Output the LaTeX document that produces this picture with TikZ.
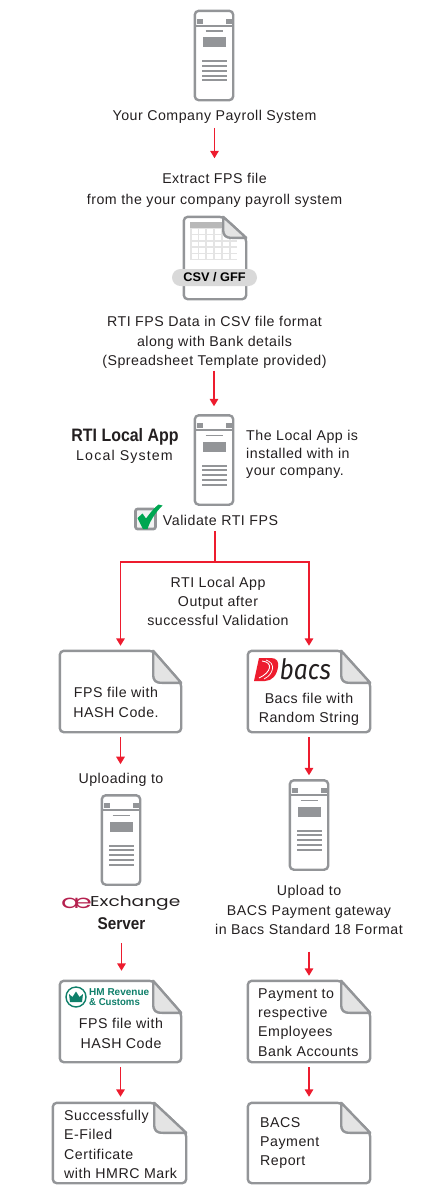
\documentclass[tikz,border=0pt]{standalone}
\usepackage{fontspec}
\setmainfont[LetterSpace=3.6]{Liberation Sans}
\newfontfamily\heavyfont{Liberation Sans}
\newfontfamily\logofont{Poppins}
\newfontfamily\bacsfont{Fira Sans}
\usetikzlibrary{arrows.meta,calc}
\definecolor{inkblack}{HTML}{231F20}
\definecolor{framegray}{HTML}{939598}
\definecolor{foldgray}{HTML}{E4E4E4}
\definecolor{pillgray}{HTML}{D9D9D9}
\definecolor{flowred}{HTML}{ED1C2E}
\definecolor{tickgreen}{HTML}{00A651}
\definecolor{hmrcgreen}{HTML}{0F7F6A}
\definecolor{aepink}{HTML}{B5214F}
\newcommand{\bodysize}{\fontsize{14.2}{19.3}\selectfont}
\newcommand{\heavytext}[3]{\scalebox{#2}[1]{\heavyfont\fontsize{#1}{#1}\selectfont\bfseries #3}}
\begin{document}
\begin{tikzpicture}[
        x=1pt, y=-1pt,
        label/.style={inner sep=0pt, align=center, text=inkblack, font=\bodysize, yshift=-1.5pt},
        leftlabel/.style={label, align=left, anchor=west},
        serverbox/.style={rectangle, minimum width=38pt, minimum height=89pt, inner sep=0pt},
        docbox/.style={rectangle, inner sep=0pt},
        frameline/.style={draw=framegray, line width=2.4pt, rounded corners=4pt},
        detailline/.style={draw=framegray, line width=2pt},
        flow/.style={-{Triangle[width=8.5pt,length=7.5pt]}, draw=flowred, line width=1.6pt}
      ]
      \useasboundingbox (0,0) rectangle (432,1200);
      % servers
      \node[serverbox] (payroll) at (214,55.5) {};
      \node[serverbox] (localapp) at (214,460) {};
      \node[serverbox] (exchange) at (121,840) {};
      \node[serverbox] (gateway) at (309,825) {};
      \foreach \srv in {payroll, localapp, exchange, gateway}{
          \draw[frameline] (\srv.north west) rectangle (\srv.south east);
          \begin{scope}[shift={(\srv.center)}]
            \draw[detailline] (-19,-30) -- (19,-30);
            \fill[framegray] (-17,-37) rectangle (-11,-32);
            \fill[framegray] (12,-37) rectangle (18,-32);
            \draw[framegray, line width=1.2pt] (-8.5,-24.5) -- (9,-24.5);
            \fill[framegray] (-11,-18.5) rectangle (12,-8.5);
            \foreach \dy in {5.5,10.3,15,20,24.7}{
                \draw[detailline] (-12,\dy) -- (13,\dy);
              }
          \end{scope}
        }
      % documents
      \node[docbox, minimum width=62pt, minimum height=82pt] (csvdoc) at (215,258) {};
      \node[docbox, minimum width=121pt, minimum height=81pt] (fpsdoc) at (120.5,691.5) {};
      \node[docbox, minimum width=122pt, minimum height=81pt] (bacsdoc) at (309,691.5) {};
      \node[docbox, minimum width=121pt, minimum height=81pt] (hmrcdoc) at (120.5,1021.5) {};
      \node[docbox, minimum width=122pt, minimum height=81pt] (paydoc) at (309,1021.5) {};
      \node[docbox, minimum width=133pt, minimum height=80pt] (certdoc) at (119.5,1143) {};
      \node[docbox, minimum width=122pt, minimum height=80pt] (reportdoc) at (309,1143) {};
      \foreach \doc/\fx/\fy in {csvdoc/23/21, fpsdoc/28/32, bacsdoc/29/32, hmrcdoc/28/32, paydoc/29/32, certdoc/32/30, reportdoc/29/30}{
          \draw[frameline, fill=white] (\doc.south west) -- (\doc.north west)
          -- ($(\doc.north east)+(-\fx,0)$) -- ($(\doc.north east)+(0,\fy)$)
          -- (\doc.south east) -- cycle;
        }
      % spreadsheet on the csv file
      \fill[foldgray] (190,222) rectangle (237,260);
      \fill[pillgray!85!black] (190,222) rectangle (237,228);
      \foreach \gx in {191.5,199.3,207.1,214.9,222.7,230.5}{
          \foreach \gy in {229,235.3,241.6,247.9,254.2}{
              \fill[white] (\gx,\gy) rectangle +(6,4.8);
            }
        }
      \foreach \doc/\fx/\fy in {csvdoc/23/21, fpsdoc/28/32, bacsdoc/29/32, hmrcdoc/28/32, paydoc/29/32, certdoc/32/30, reportdoc/29/30}{
          \fill[white] ($(\doc.north east)+(-\fx,-2)$) -- ($(\doc.north east)+(2,-2)$) -- ($(\doc.north east)+(2,\fy)$) -- cycle;
          \draw[draw=framegray, line width=2.4pt, fill=foldgray, line join=round]
          ($(\doc.north east)+(-\fx,0)$)
          -- ($(\doc.north east)+(-\fx,\fy-9)$)
          .. controls ($(\doc.north east)+(-\fx,\fy-2)$) and ($(\doc.north east)+(-\fx+2,\fy)$) .. ($(\doc.north east)+(-\fx+9,\fy)$)
          -- ($(\doc.north east)+(0,\fy)$) -- cycle;
        }
      \node[rectangle, rounded corners=8.5pt, fill=pillgray, minimum width=85pt, minimum height=17pt, inner sep=0pt] (csvpill) at (214.5,277.5)
      {\heavytext{12.5}{1.02}{CSV / GFF}};
      % texts
      \node[label] (payrolltext) at (214.5,115) {Your Company Payroll System};
      \node[label] (extracttext) at (214.5,188.5) {Extract FPS file\\[1.5pt]from the your company payroll system};
      \node[label] (csvtext) at (214.5,341) {RTI FPS Data in CSV file format\\along with Bank details\\(Spreadsheet Template provided)};
      \node[label] (rtititle) at (125,435) {\heavytext{18}{0.885}{RTI Local App}};
      \node[label] (rtisub) at (124.5,455) {\addfontfeature{LetterSpace=8}Local System};
      \node[leftlabel, font=\fontsize{14.2}{17.5}\selectfont] (installtext) at (246,453) {The Local App is\\installed with in\\your company.};
      \node[label] (validatetext) at (220.5,519) {Validate RTI FPS};
      \node[label] (outputtext) at (218,600) {RTI Local App\\Output after\\successful Validation};
      \node[label] (fpstext) at (116,701) {FPS file with\\HASH Code.};
      \node[label] (bacstext) at (309,707.5) {Bacs file with\\Random String};
      \node[label] (uploadingtext) at (121,778.5) {Uploading to};
      \node[label] (servertext) at (121.5,922.5) {\heavytext{17}{0.9}{Server}};
      \node[label] (gatewaytext) at (309,908.5) {Upload to\\BACS Payment gateway\\in Bacs Standard 18 Format};
      \node[label] (hmrctext) at (121,1032) {FPS file with\\HASH Code};
      \node[leftlabel] (paytext) at (258,1021) {Payment to\\respective\\Employees\\Bank Accounts};
      \node[leftlabel] (certtext) at (64,1143) {Successfully\\E-Filed\\Certificate\\with HMRC Mark};
      \node[leftlabel] (reporttext) at (260,1141.5) {BACS\\Payment\\Report};
      % tick box
      \node[rectangle, draw=framegray, line width=2.6pt, rounded corners=2pt, fill=foldgray!50, minimum size=20pt, inner sep=0pt] (tickbox) at (145.5,519) {};
      \fill[tickgreen] (137.5,518) -- (142.5,513.5) -- (146,518.5) .. controls (150,513) and (154,508) .. (158.5,504.5) -- (162.5,505.5)
      .. controls (155,513) and (150,521) .. (147.5,529) -- (143,529) -- cycle;
      % bacs logo
      \node[inner sep=0pt, anchor=west, text=inkblack] (bacslogo) at (279.5,669.5)
      {\scalebox{0.88}[1]{\bacsfont\fontsize{28}{28}\selectfont\itshape bacs}};
      \fill[flowred] (259,658) -- (271,658) .. controls (277,658) and (279,662) .. (278,667)
      .. controls (277,675) and (272,681) .. (265,681) -- (254,681) -- cycle;
      \draw[white, line width=0.9pt] (262,661) .. controls (273,662) and (272,672) .. (259,678);
      \draw[white, line width=0.7pt] (266,660) .. controls (276,663) and (274,674) .. (264,679);
      % exchange logo
      \node[inner sep=0pt, anchor=west, text=aepink] (aemark) at (61,903)
      {\scalebox{1.65}[1.1]{\logofont\fontsize{17}{17}\selectfont æ}};
      \node[inner sep=0pt, anchor=east, text=inkblack] (aename) at (180.5,903)
      {\scalebox{1.24}[0.95]{\logofont\fontsize{15}{15}\selectfont Exchange}};
      % hmrc logo
      \node[circle, draw=hmrcgreen, line width=1.4pt, minimum size=20pt, inner sep=0pt] (hmrccrest) at (76,997) {};
      \fill[hmrcgreen] (70,1002) -- (69,994) -- (72.5,997) -- (76,991.5) -- (79.5,997) -- (83,994) -- (82,1002) -- cycle;
      \node[inner sep=0pt, anchor=west, align=left, text=hmrcgreen, font=\heavyfont\fontsize{10}{10.5}\selectfont\bfseries] (hmrcname) at (89,997)
      {\scalebox{1.0}[1]{HM Revenue}\\\scalebox{0.96}[1]{\& Customs}};
      % connectors
      \coordinate (branch) at (215,562);
      \draw[flow, shorten <=4.5pt, shorten >=14.5pt] (payrolltext.south) -- (payrolltext.south |- extracttext.north);
      \draw[flow, shorten <=2pt, shorten >=9pt] (csvtext.south -| localapp.north) -- (localapp.north);
      \draw[draw=flowred, line width=1.6pt, shorten <=5pt] (branch |- validatetext.south) -- (branch);
      \draw[flow, shorten >=5pt] (branch) -| (fpsdoc.north);
      \draw[flow, shorten >=5pt] (branch) -| (bacsdoc.north);
      \draw[flow, shorten <=5pt, shorten >=9pt] (fpsdoc.south) -- (fpsdoc.south |- uploadingtext.north);
      \draw[flow, shorten <=5pt, shorten >=5pt] (bacsdoc.south) -- (gateway.north);
      \draw[flow, shorten <=13pt, shorten >=10pt] (servertext.south) -- (servertext.south |- hmrcdoc.north);
      \draw[flow, shorten <=17pt, shorten >=5pt] (gatewaytext.south -| paydoc.north) -- (paydoc.north);
      \draw[flow, shorten <=5pt, shorten >=6pt] (hmrcdoc.south) -- (certdoc.north -| hmrcdoc.south);
      \draw[flow, shorten <=5pt, shorten >=6pt] (paydoc.south) -- (reportdoc.north);
    \end{tikzpicture}
\end{document}
